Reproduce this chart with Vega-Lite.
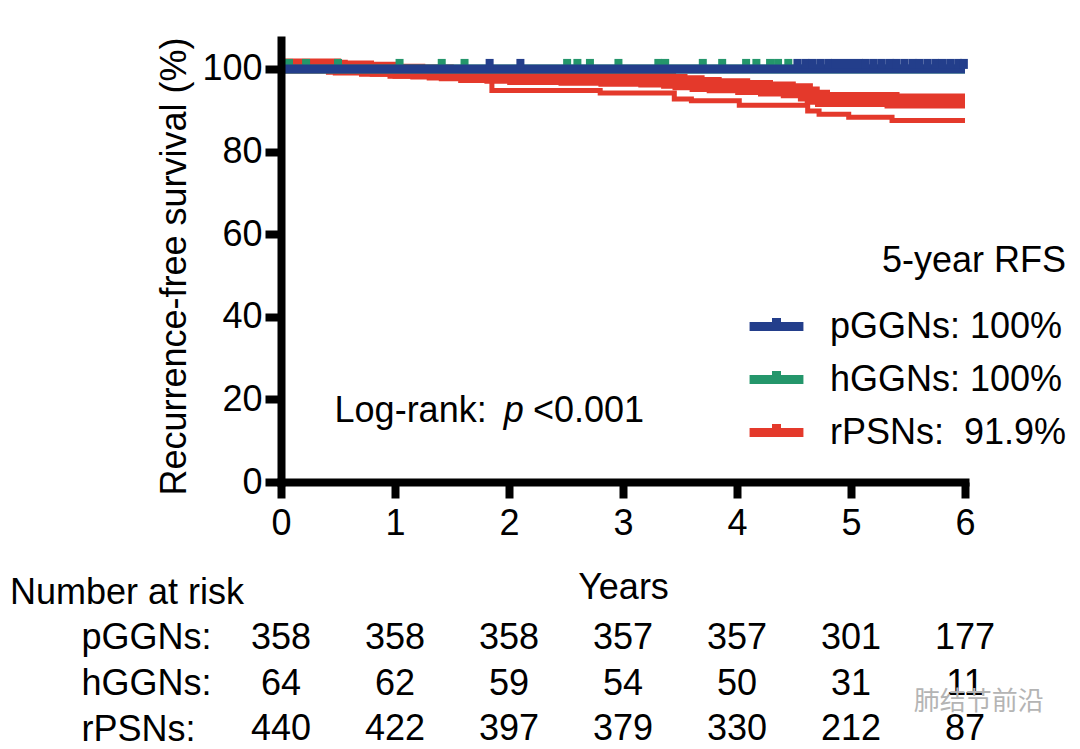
{
  "$schema": "https://vega.github.io/schema/vega-lite/v6.json",
  "background": "white",
  "autosize": {"type": "pad"},
  "padding": {"left": 10, "top": 35, "right": 0, "bottom": 0},
  "config": {
    "font": "Liberation Sans",
    "view": {"stroke": null},
    "axis": {
      "grid": false,
      "labelColor": "#000",
      "titleColor": "#000",
      "labelFontSize": 36,
      "titleFontSize": 36,
      "titleFontWeight": "normal",
      "domainColor": "#000",
      "tickColor": "#000",
      "labelFlush": false
    },
    "legend": {"labelColor": "#000", "titleColor": "#000"}
  },
  "datasets": {
    "km": [
      {"group": "pGGNs", "t": 0, "s": 100},
      {"group": "pGGNs", "t": 6, "s": 100},
      {"group": "hGGNs", "t": 0, "s": 100},
      {"group": "hGGNs", "t": 6, "s": 100},
      {"group": "rPSNs", "t": 0, "s": 100},
      {"group": "rPSNs", "t": 0.46, "s": 99.7},
      {"group": "rPSNs", "t": 0.52, "s": 99.5},
      {"group": "rPSNs", "t": 0.75, "s": 99.2},
      {"group": "rPSNs", "t": 1.0, "s": 98.7},
      {"group": "rPSNs", "t": 1.2, "s": 98.5},
      {"group": "rPSNs", "t": 1.45, "s": 98.1},
      {"group": "rPSNs", "t": 1.62, "s": 97.7},
      {"group": "rPSNs", "t": 1.85, "s": 97.5},
      {"group": "rPSNs", "t": 2.05, "s": 97.2},
      {"group": "rPSNs", "t": 2.5, "s": 97.0},
      {"group": "rPSNs", "t": 2.85, "s": 96.8},
      {"group": "rPSNs", "t": 3.2, "s": 96.6},
      {"group": "rPSNs", "t": 3.4, "s": 96.3},
      {"group": "rPSNs", "t": 3.5, "s": 95.9},
      {"group": "rPSNs", "t": 3.65, "s": 95.5},
      {"group": "rPSNs", "t": 3.8, "s": 95.2},
      {"group": "rPSNs", "t": 4.05, "s": 94.8},
      {"group": "rPSNs", "t": 4.25, "s": 94.4},
      {"group": "rPSNs", "t": 4.45, "s": 94.0},
      {"group": "rPSNs", "t": 4.6, "s": 93.2},
      {"group": "rPSNs", "t": 4.66, "s": 92.4},
      {"group": "rPSNs", "t": 4.75, "s": 91.9},
      {"group": "rPSNs", "t": 5.36, "s": 91.5},
      {"group": "rPSNs", "t": 6.0, "s": 91.5}
    ],
    "lower": [
      {"t": 0, "s": 100},
      {"t": 0.5, "s": 99.2},
      {"t": 0.8, "s": 98.7},
      {"t": 1.0, "s": 98.2},
      {"t": 1.3, "s": 97.8},
      {"t": 1.6, "s": 97.2},
      {"t": 1.85, "s": 94.8},
      {"t": 2.8, "s": 94.2},
      {"t": 3.45, "s": 92.7},
      {"t": 3.6, "s": 92.3},
      {"t": 4.02, "s": 91.2},
      {"t": 4.62, "s": 89.8},
      {"t": 4.72, "s": 89.0},
      {"t": 4.98, "s": 88.3},
      {"t": 5.36, "s": 87.5},
      {"t": 6.0, "s": 87.5}
    ],
    "censor": [
      {"group": "hGGNs", "t": 0.07, "s": 100},
      {"group": "hGGNs", "t": 0.22, "s": 100},
      {"group": "hGGNs", "t": 0.5, "s": 100},
      {"group": "hGGNs", "t": 1.04, "s": 100},
      {"group": "hGGNs", "t": 1.41, "s": 100},
      {"group": "hGGNs", "t": 1.61, "s": 100},
      {"group": "hGGNs", "t": 2.51, "s": 100},
      {"group": "hGGNs", "t": 2.6, "s": 100},
      {"group": "hGGNs", "t": 2.71, "s": 100},
      {"group": "hGGNs", "t": 2.96, "s": 100},
      {"group": "hGGNs", "t": 3.31, "s": 100},
      {"group": "hGGNs", "t": 3.37, "s": 100},
      {"group": "hGGNs", "t": 3.7, "s": 100},
      {"group": "hGGNs", "t": 3.87, "s": 100},
      {"group": "hGGNs", "t": 4.08, "s": 100},
      {"group": "hGGNs", "t": 4.17, "s": 100},
      {"group": "hGGNs", "t": 4.29, "s": 100},
      {"group": "hGGNs", "t": 4.36, "s": 100},
      {"group": "hGGNs", "t": 4.45, "s": 100},
      {"group": "pGGNs", "t": 1.83, "s": 100},
      {"group": "pGGNs", "t": 2.1, "s": 100},
      {"group": "pGGNs", "t": 4.53, "s": 100},
      {"group": "pGGNs", "t": 4.6, "s": 100},
      {"group": "pGGNs", "t": 4.66, "s": 100},
      {"group": "pGGNs", "t": 4.73, "s": 100},
      {"group": "pGGNs", "t": 4.8, "s": 100},
      {"group": "pGGNs", "t": 4.86, "s": 100},
      {"group": "pGGNs", "t": 4.93, "s": 100},
      {"group": "pGGNs", "t": 5.0, "s": 100},
      {"group": "pGGNs", "t": 5.07, "s": 100},
      {"group": "pGGNs", "t": 5.13, "s": 100},
      {"group": "pGGNs", "t": 5.2, "s": 100},
      {"group": "pGGNs", "t": 5.27, "s": 100},
      {"group": "pGGNs", "t": 5.34, "s": 100},
      {"group": "pGGNs", "t": 5.4, "s": 100},
      {"group": "pGGNs", "t": 5.47, "s": 100},
      {"group": "pGGNs", "t": 5.54, "s": 100},
      {"group": "pGGNs", "t": 5.6, "s": 100},
      {"group": "pGGNs", "t": 5.67, "s": 100},
      {"group": "pGGNs", "t": 5.74, "s": 100},
      {"group": "pGGNs", "t": 5.8, "s": 100},
      {"group": "pGGNs", "t": 5.87, "s": 100},
      {"group": "pGGNs", "t": 5.94, "s": 100},
      {"group": "pGGNs", "t": 5.99, "s": 100}
    ],
    "risk": [
      {"group": "pGGNs", "t": 0, "n": 358},
      {"group": "pGGNs", "t": 1, "n": 358},
      {"group": "pGGNs", "t": 2, "n": 358},
      {"group": "pGGNs", "t": 3, "n": 357},
      {"group": "pGGNs", "t": 4, "n": 357},
      {"group": "pGGNs", "t": 5, "n": 301},
      {"group": "pGGNs", "t": 6, "n": 177},
      {"group": "hGGNs", "t": 0, "n": 64},
      {"group": "hGGNs", "t": 1, "n": 62},
      {"group": "hGGNs", "t": 2, "n": 59},
      {"group": "hGGNs", "t": 3, "n": 54},
      {"group": "hGGNs", "t": 4, "n": 50},
      {"group": "hGGNs", "t": 5, "n": 31},
      {"group": "hGGNs", "t": 6, "n": 11},
      {"group": "rPSNs", "t": 0, "n": 440},
      {"group": "rPSNs", "t": 1, "n": 422},
      {"group": "rPSNs", "t": 2, "n": 397},
      {"group": "rPSNs", "t": 3, "n": 379},
      {"group": "rPSNs", "t": 4, "n": 330},
      {"group": "rPSNs", "t": 5, "n": 212},
      {"group": "rPSNs", "t": 6, "n": 87}
    ]
  },
  "spacing": 28,
  "vconcat": [
    {
      "width": 684,
      "height": 442,
      "layer": [
        {
          "data": {"name": "lower"},
          "mark": {"type": "line", "interpolate": "step-after", "strokeWidth": 5, "color": "#e4392b"},
          "encoding": {
            "x": {
              "field": "t",
              "type": "quantitative",
              "scale": {"domain": [0, 6], "nice": false, "zero": false},
              "axis": {
                "values": [0, 1, 2, 3, 4, 5, 6],
                "format": "d",
                "title": null,
                "tickSize": 16,
                "tickWidth": 8,
                "domainWidth": 8,
                "domainCap": "square",
                "labelPadding": 8,
                "zindex": 1
              }
            },
            "y": {
              "field": "s",
              "type": "quantitative",
              "scale": {"domain": [0, 107], "nice": false},
              "axis": {
                "values": [0, 20, 40, 60, 80, 100],
                "title": "Recurrence-free survival (%)",
                "tickSize": 16,
                "tickWidth": 8,
                "domainWidth": 8,
                "domainCap": "square",
                "labelPadding": 3,
                "titlePadding": 8,
                "titleY": 226,
                "zindex": 1
              }
            }
          }
        },
        {
          "data": {"name": "km"},
          "transform": [{"filter": "datum.group == 'rPSNs'"}],
          "mark": {"type": "line", "interpolate": "step-after", "strokeWidth": 15, "yOffset": -3},
          "encoding": {
            "x": {"field": "t", "type": "quantitative"},
            "y": {"field": "s", "type": "quantitative"},
            "color": {
              "field": "group",
              "type": "nominal",
              "scale": {
                "domain": ["pGGNs", "hGGNs", "rPSNs"],
                "range": ["#233e8b", "#24966b", "#e4392b"]
              },
              "legend": {
                "title": "5-year RFS",
                "orient": "none",
                "legendX": 464,
                "legendY": 204,
                "padding": 0,
                "rowPadding": 3,
                "symbolType": "M-1,0H1M0,0V-0.32",
                "symbolSize": 2900,
                "symbolStrokeWidth": 9,
                "labelFontSize": 36,
                "labelOffset": 22,
                "labelLimit": 400,
                "titleFontSize": 36,
                "titleFontWeight": "normal",
                "titleLimit": 400,
                "titleAnchor": "end",
                "titlePadding": 15,
                "labelExpr": "datum.label == 'pGGNs' ? 'pGGNs: 100%' : datum.label == 'hGGNs' ? 'hGGNs: 100%' : 'rPSNs:\u00a0\u00a091.9%'"
              }
            }
          }
        },
        {
          "data": {"name": "km"},
          "transform": [{"filter": "datum.group == 'hGGNs'"}],
          "mark": {"type": "line", "interpolate": "step-after", "strokeWidth": 9},
          "encoding": {
            "x": {"field": "t", "type": "quantitative"},
            "y": {"field": "s", "type": "quantitative"},
            "color": {"field": "group", "type": "nominal"}
          }
        },
        {
          "data": {"name": "censor"},
          "transform": [{"filter": "datum.group == 'hGGNs'"}],
          "mark": {"type": "tick", "orient": "vertical", "size": 10, "thickness": 8, "yOffset": -5, "color": "#24966b", "opacity": 1},
          "encoding": {
            "x": {"field": "t", "type": "quantitative"},
            "y": {"field": "s", "type": "quantitative"}
          }
        },
        {
          "data": {"name": "km"},
          "transform": [{"filter": "datum.group == 'pGGNs'"}],
          "mark": {"type": "line", "interpolate": "step-after", "strokeWidth": 9},
          "encoding": {
            "x": {"field": "t", "type": "quantitative"},
            "y": {"field": "s", "type": "quantitative"},
            "color": {"field": "group", "type": "nominal"}
          }
        },
        {
          "data": {"name": "censor"},
          "transform": [{"filter": "datum.group == 'pGGNs'"}],
          "mark": {"type": "tick", "orient": "vertical", "size": 10, "thickness": 8, "yOffset": -5, "color": "#233e8b", "opacity": 1},
          "encoding": {
            "x": {"field": "t", "type": "quantitative"},
            "y": {"field": "s", "type": "quantitative"}
          }
        },
        {
          "data": {"values": [{}]},
          "mark": {"type": "text", "fontSize": 36, "align": "left", "baseline": "alphabetic", "color": "#000"},
          "encoding": {"x": {"datum": 0.47}, "y": {"datum": 14.5}, "text": {"value": "Log-rank:"}}
        },
        {
          "data": {"values": [{}]},
          "mark": {"type": "text", "fontSize": 36, "fontStyle": "italic", "align": "left", "baseline": "alphabetic", "color": "#000"},
          "encoding": {"x": {"datum": 1.955}, "y": {"datum": 14.5}, "text": {"value": "p"}}
        },
        {
          "data": {"values": [{}]},
          "mark": {"type": "text", "fontSize": 36, "align": "left", "baseline": "alphabetic", "color": "#000"},
          "encoding": {"x": {"datum": 2.21}, "y": {"datum": 14.5}, "text": {"value": "<0.001"}}
        }
      ]
    },
    {
      "width": 684,
      "height": 137,
      "title": {
        "text": "Number at risk",
        "anchor": "start",
        "frame": "group",
        "dx": -271,
        "offset": -43,
        "fontSize": 36,
        "fontWeight": "normal",
        "color": "#000"
      },
      "layer": [
        {
          "data": {"name": "risk"},
          "mark": {"type": "text", "fontSize": 36, "color": "#000"},
          "encoding": {
            "x": {
              "field": "t",
              "type": "quantitative",
              "scale": {"domain": [0, 6], "nice": false, "zero": false},
              "axis": {"orient": "top", "title": "Years", "domain": false, "ticks": false, "labels": false, "titlePadding": 9}
            },
            "y": {
              "field": "group",
              "type": "nominal",
              "scale": {"type": "point", "domain": ["pGGNs", "hGGNs", "rPSNs"], "padding": 0.5},
              "axis": {"title": null, "domain": false, "ticks": false, "tickSize": 0, "labelAlign": "left", "labelPadding": 200, "labelExpr": "datum.label + ':'"}
            },
            "text": {"field": "n", "type": "quantitative"}
          }
        },
        {
          "data": {"values": [{}]},
          "mark": {"type": "text", "font": "Noto Sans CJK SC", "fontSize": 26, "color": "#b4b4b4", "align": "left", "dy": 18},
          "encoding": {"x": {"datum": 5.55}, "y": {"datum": "hGGNs"}, "text": {"value": "肺结节前沿"}}
        }
      ]
    }
  ]
}
